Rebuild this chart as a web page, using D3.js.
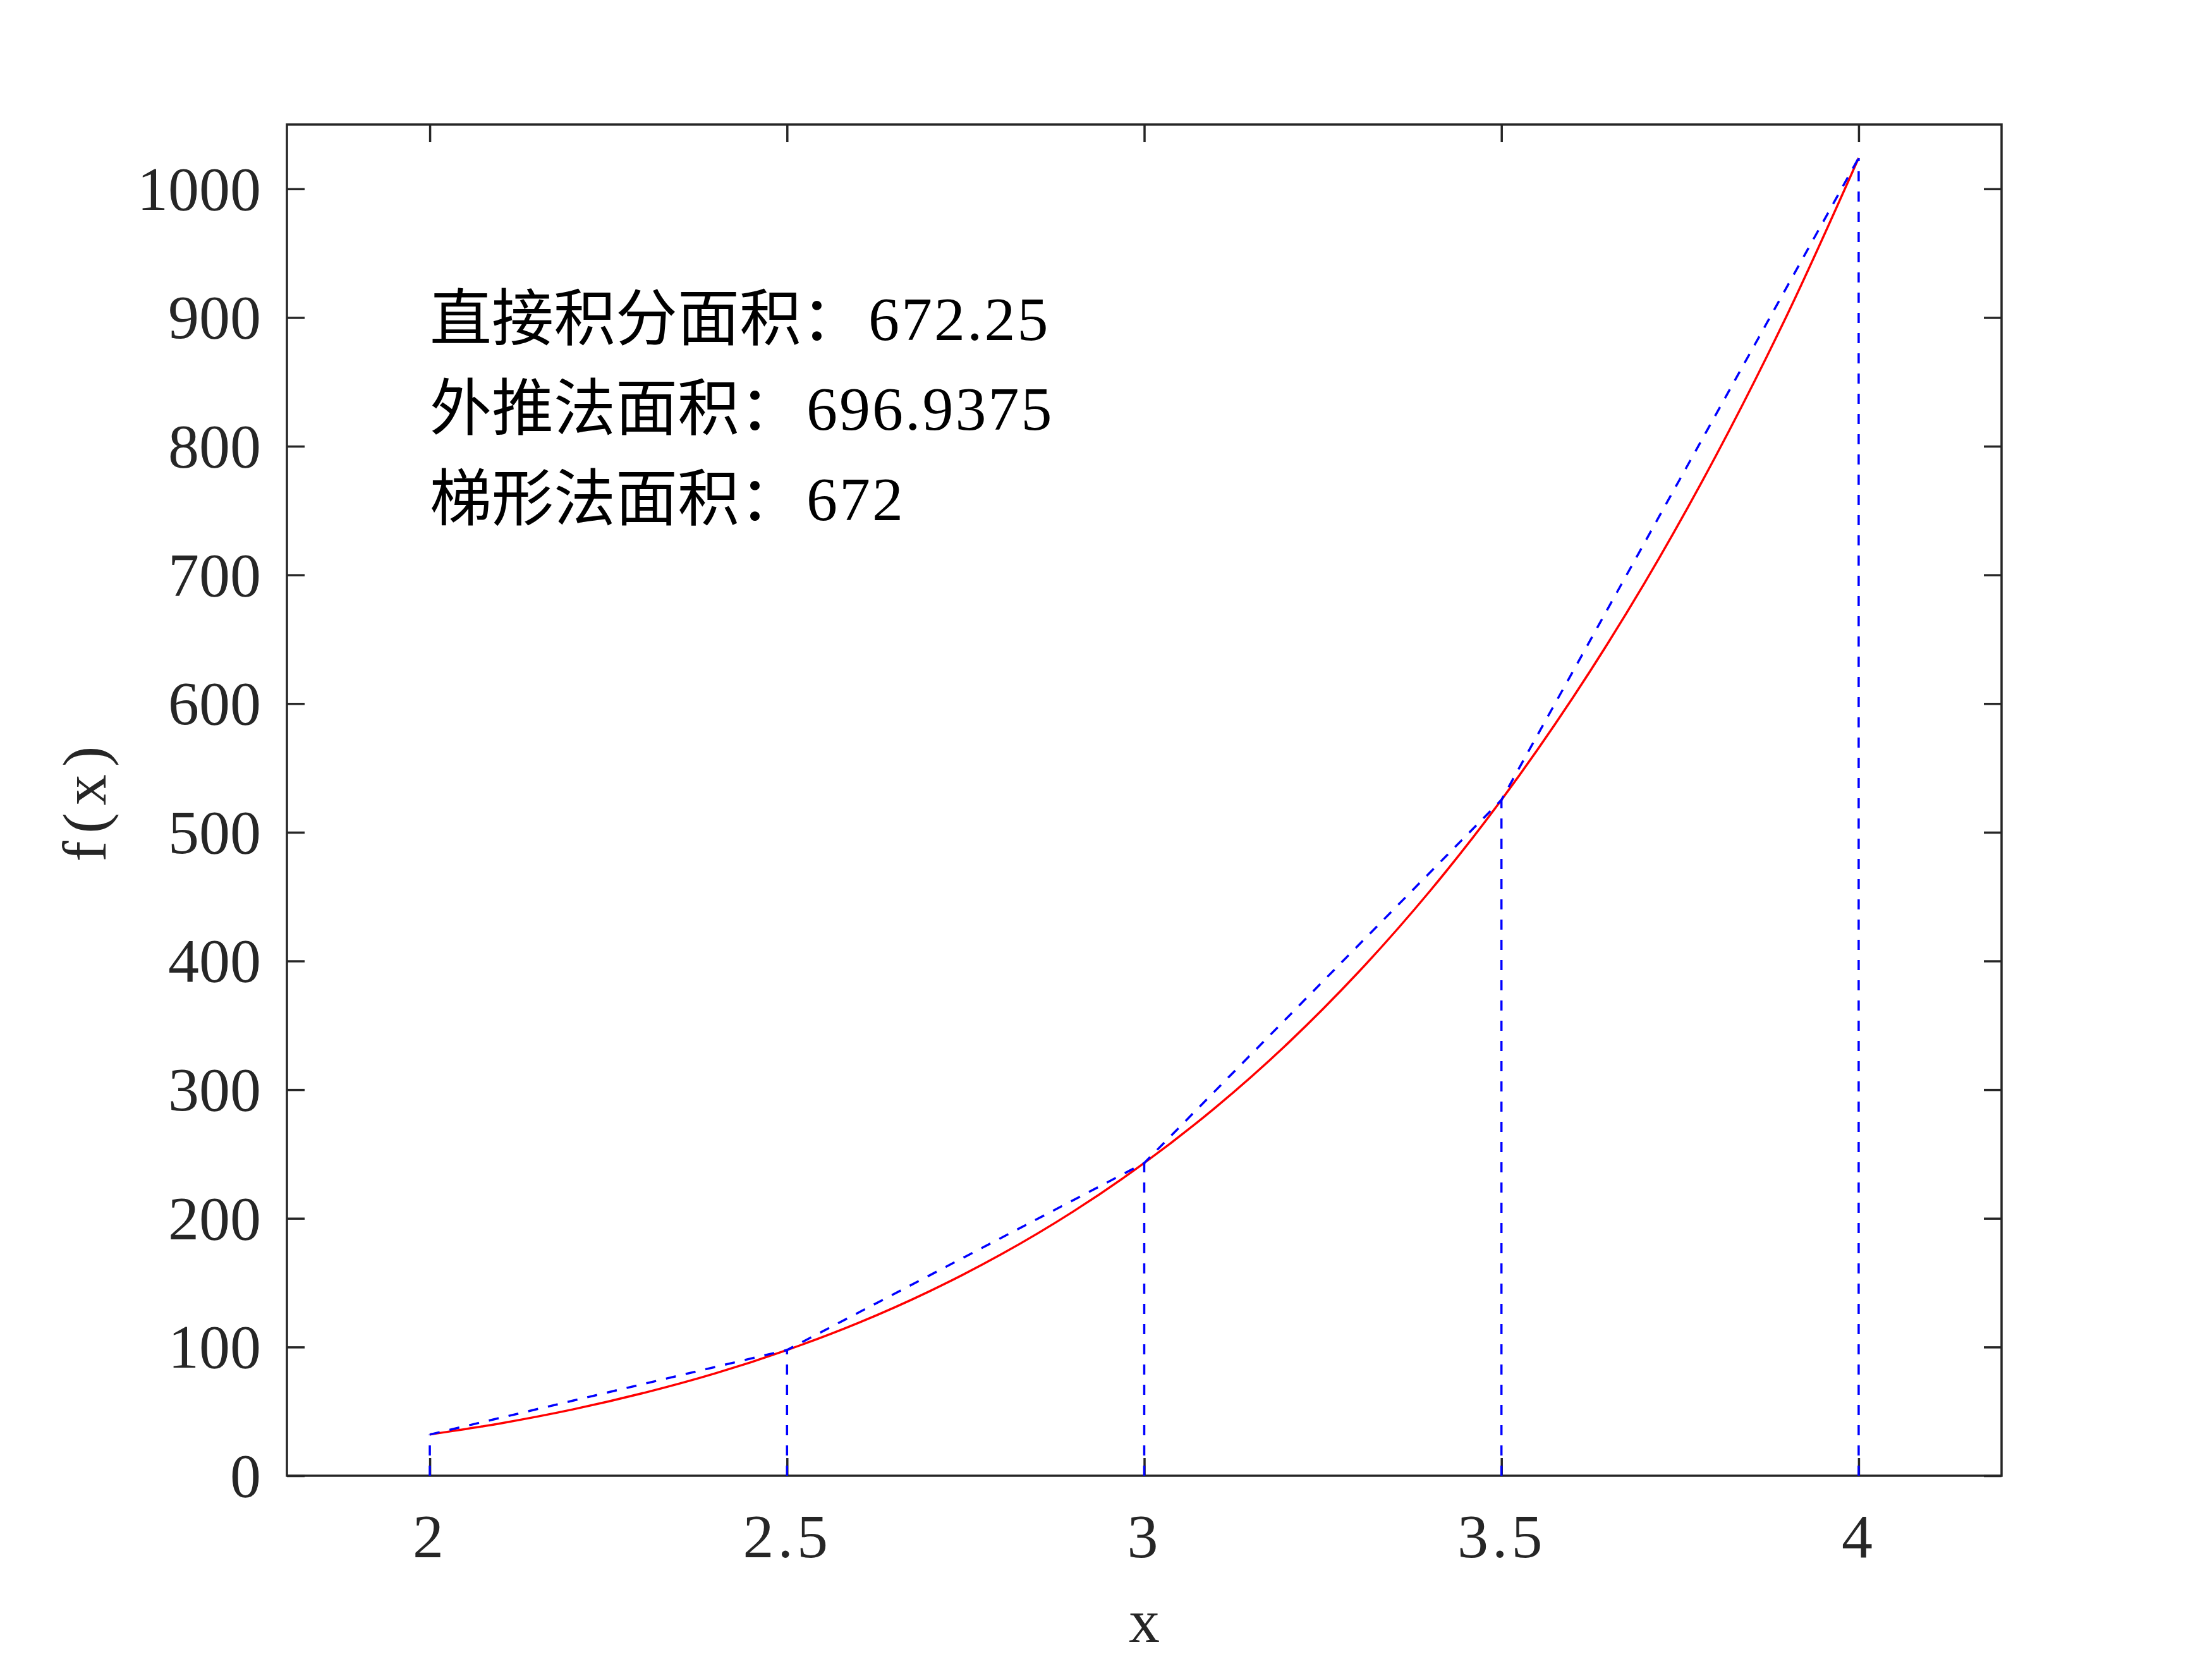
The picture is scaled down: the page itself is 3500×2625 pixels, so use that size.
<!DOCTYPE html>
<html>
<head>
<meta charset="utf-8">
<script src="https://cdn.jsdelivr.net/npm/d3@7/dist/d3.min.js"></script>
<style>
    body { margin: 0; background: #fff; }
</style>
</head>
<body>
<div id="chart"></div>
<script>
// smooth curve f(x)
const curveX = [2.0, 2.1, 2.2, 2.3, 2.4, 2.5, 2.6, 2.7, 2.8, 2.9, 3.0,
                3.1, 3.2, 3.3, 3.4, 3.5, 3.6, 3.7, 3.8, 3.9, 4.0];
const curveY = [32, 40.8, 51.5, 64.4, 79.6, 97.7, 118.8, 143.5, 172.1, 205.1, 243,
                286.3, 335.5, 391.4, 454.4, 525.2, 604.7, 693.4, 792.4, 902.2, 1024];

// trapezoid nodes (blue dashed)
const nodeX = [2, 2.5, 3, 3.5, 4];
const nodeY = [32, 97.7, 243, 525.2, 1024];

const xTicks = [2, 2.5, 3, 3.5, 4];
const yTicks = [0, 100, 200, 300, 400, 500, 600, 700, 800, 900, 1000];

const noteLabels = ['直接积分面积：', '外推法面积：', '梯形法面积：'];
const noteValues = ['672.25', '696.9375', '672'];
const noteX = [2, 2, 2];
const noteY = [900, 830, 760];

const margin = { top: 197, right: 333, bottom: 290, left: 454 };
const width = 3500 - margin.left - margin.right;
const height = 2625 - margin.top - margin.bottom;
const axisColor = '#262626';
const fontSerif = '"Liberation Serif", "Noto Sans CJK SC", serif';
const fontSize = 98;
const tickLen = 28;

const svg = d3.select('#chart').append('svg')
    .attr('width', 3500)
    .attr('height', 2625)
    .style('background', '#fff');

const chart = svg.append('g')
    .attr('transform', `translate(${margin.left}, ${margin.top})`);

const x = d3.scaleLinear().domain([1.8, 4.2]).range([0, width]);
const y = d3.scaleLinear().domain([0, 1050]).range([height, 0]);

// axes (ticks point inward, mirrored on top / right)
const styleAxis = (g) => {
    g.select('.domain').remove();
    g.selectAll('.tick line').attr('stroke', axisColor).attr('stroke-width', 3.5);
    g.selectAll('.tick text')
        .attr('fill', axisColor)
        .style('font-family', fontSerif)
        .style('font-size', fontSize + 'px');
};

chart.append('g')
    .attr('transform', `translate(0, ${height})`)
    .call(d3.axisBottom(x).tickValues(xTicks).tickSize(-tickLen).tickSizeOuter(0)
        .tickFormat(d3.format('')))
    .call(styleAxis)
    .call(g => g.selectAll('.tick text').attr('y', 129).attr('dy', 0)
        .style('letter-spacing', '6px'));

chart.append('g')
    .call(d3.axisTop(x).tickValues(xTicks).tickSize(-tickLen).tickSizeOuter(0).tickFormat(''))
    .call(styleAxis);

chart.append('g')
    .call(d3.axisLeft(y).tickValues(yTicks).tickSize(-tickLen).tickSizeOuter(0)
        .tickFormat(d3.format('')))
    .call(styleAxis)
    .call(g => g.selectAll('.tick text').attr('x', -41).attr('dy', '0.33em'));

chart.append('g')
    .attr('transform', `translate(${width}, 0)`)
    .call(d3.axisRight(y).tickValues(yTicks).tickSize(-tickLen).tickSizeOuter(0).tickFormat(''))
    .call(styleAxis);

chart.append('rect')
    .attr('width', width)
    .attr('height', height)
    .attr('fill', 'none')
    .attr('stroke', axisColor)
    .attr('stroke-width', 3.5);

// red curve
const curvePts = curveX.map((v, i) => [v, curveY[i]]);
chart.append('path')
    .datum(curvePts)
    .attr('fill', 'none')
    .attr('stroke', '#ff0000')
    .attr('stroke-width', 3.5)
    .attr('d', d3.line().x(d => x(d[0])).y(d => y(d[1])).curve(d3.curveCatmullRom));

// blue dashed polyline + verticals
const nodePts = nodeX.map((v, i) => [v, nodeY[i]]);
chart.append('path')
    .datum(nodePts)
    .attr('fill', 'none')
    .attr('stroke', '#0000ff')
    .attr('stroke-width', 3.5)
    .attr('stroke-dasharray', '16,16')
    .attr('d', d3.line().x(d => x(d[0])).y(d => y(d[1])));

chart.selectAll('.vline')
    .data(nodePts)
    .enter().append('line')
    .attr('class', 'vline')
    .attr('x1', d => x(d[0]))
    .attr('x2', d => x(d[0]))
    .attr('y1', y(0))
    .attr('y2', d => y(d[1]))
    .attr('stroke', '#0000ff')
    .attr('stroke-width', 3.5)
    .attr('stroke-dasharray', '16,16');

// annotations
const notes = chart.selectAll('.note')
    .data(noteLabels)
    .enter().append('text')
    .attr('class', 'note')
    .attr('x', (d, i) => x(noteX[i]))
    .attr('y', (d, i) => y(noteY[i]))
    .attr('dy', '0.36em')
    .attr('fill', '#000')
    .style('font-family', fontSerif)
    .style('font-size', fontSize + 'px');

notes.append('tspan').text(d => d);
notes.append('tspan')
    .attr('dx', 8)
    .style('letter-spacing', '3px')
    .text((d, i) => noteValues[i]);

// axis labels
svg.append('text')
    .attr('x', margin.left + width / 2)
    .attr('y', 2598)
    .attr('text-anchor', 'middle')
    .attr('fill', axisColor)
    .style('font-family', fontSerif)
    .style('font-size', fontSize + 'px')
    .text('x');

svg.append('text')
    .attr('transform', `translate(167, ${margin.top + height / 2}) rotate(-90)`)
    .attr('text-anchor', 'middle')
    .attr('fill', axisColor)
    .style('font-family', fontSerif)
    .style('font-size', fontSize + 'px')
    .style('letter-spacing', '12px')
    .text('f(x)');
</script>
</body>
</html>
